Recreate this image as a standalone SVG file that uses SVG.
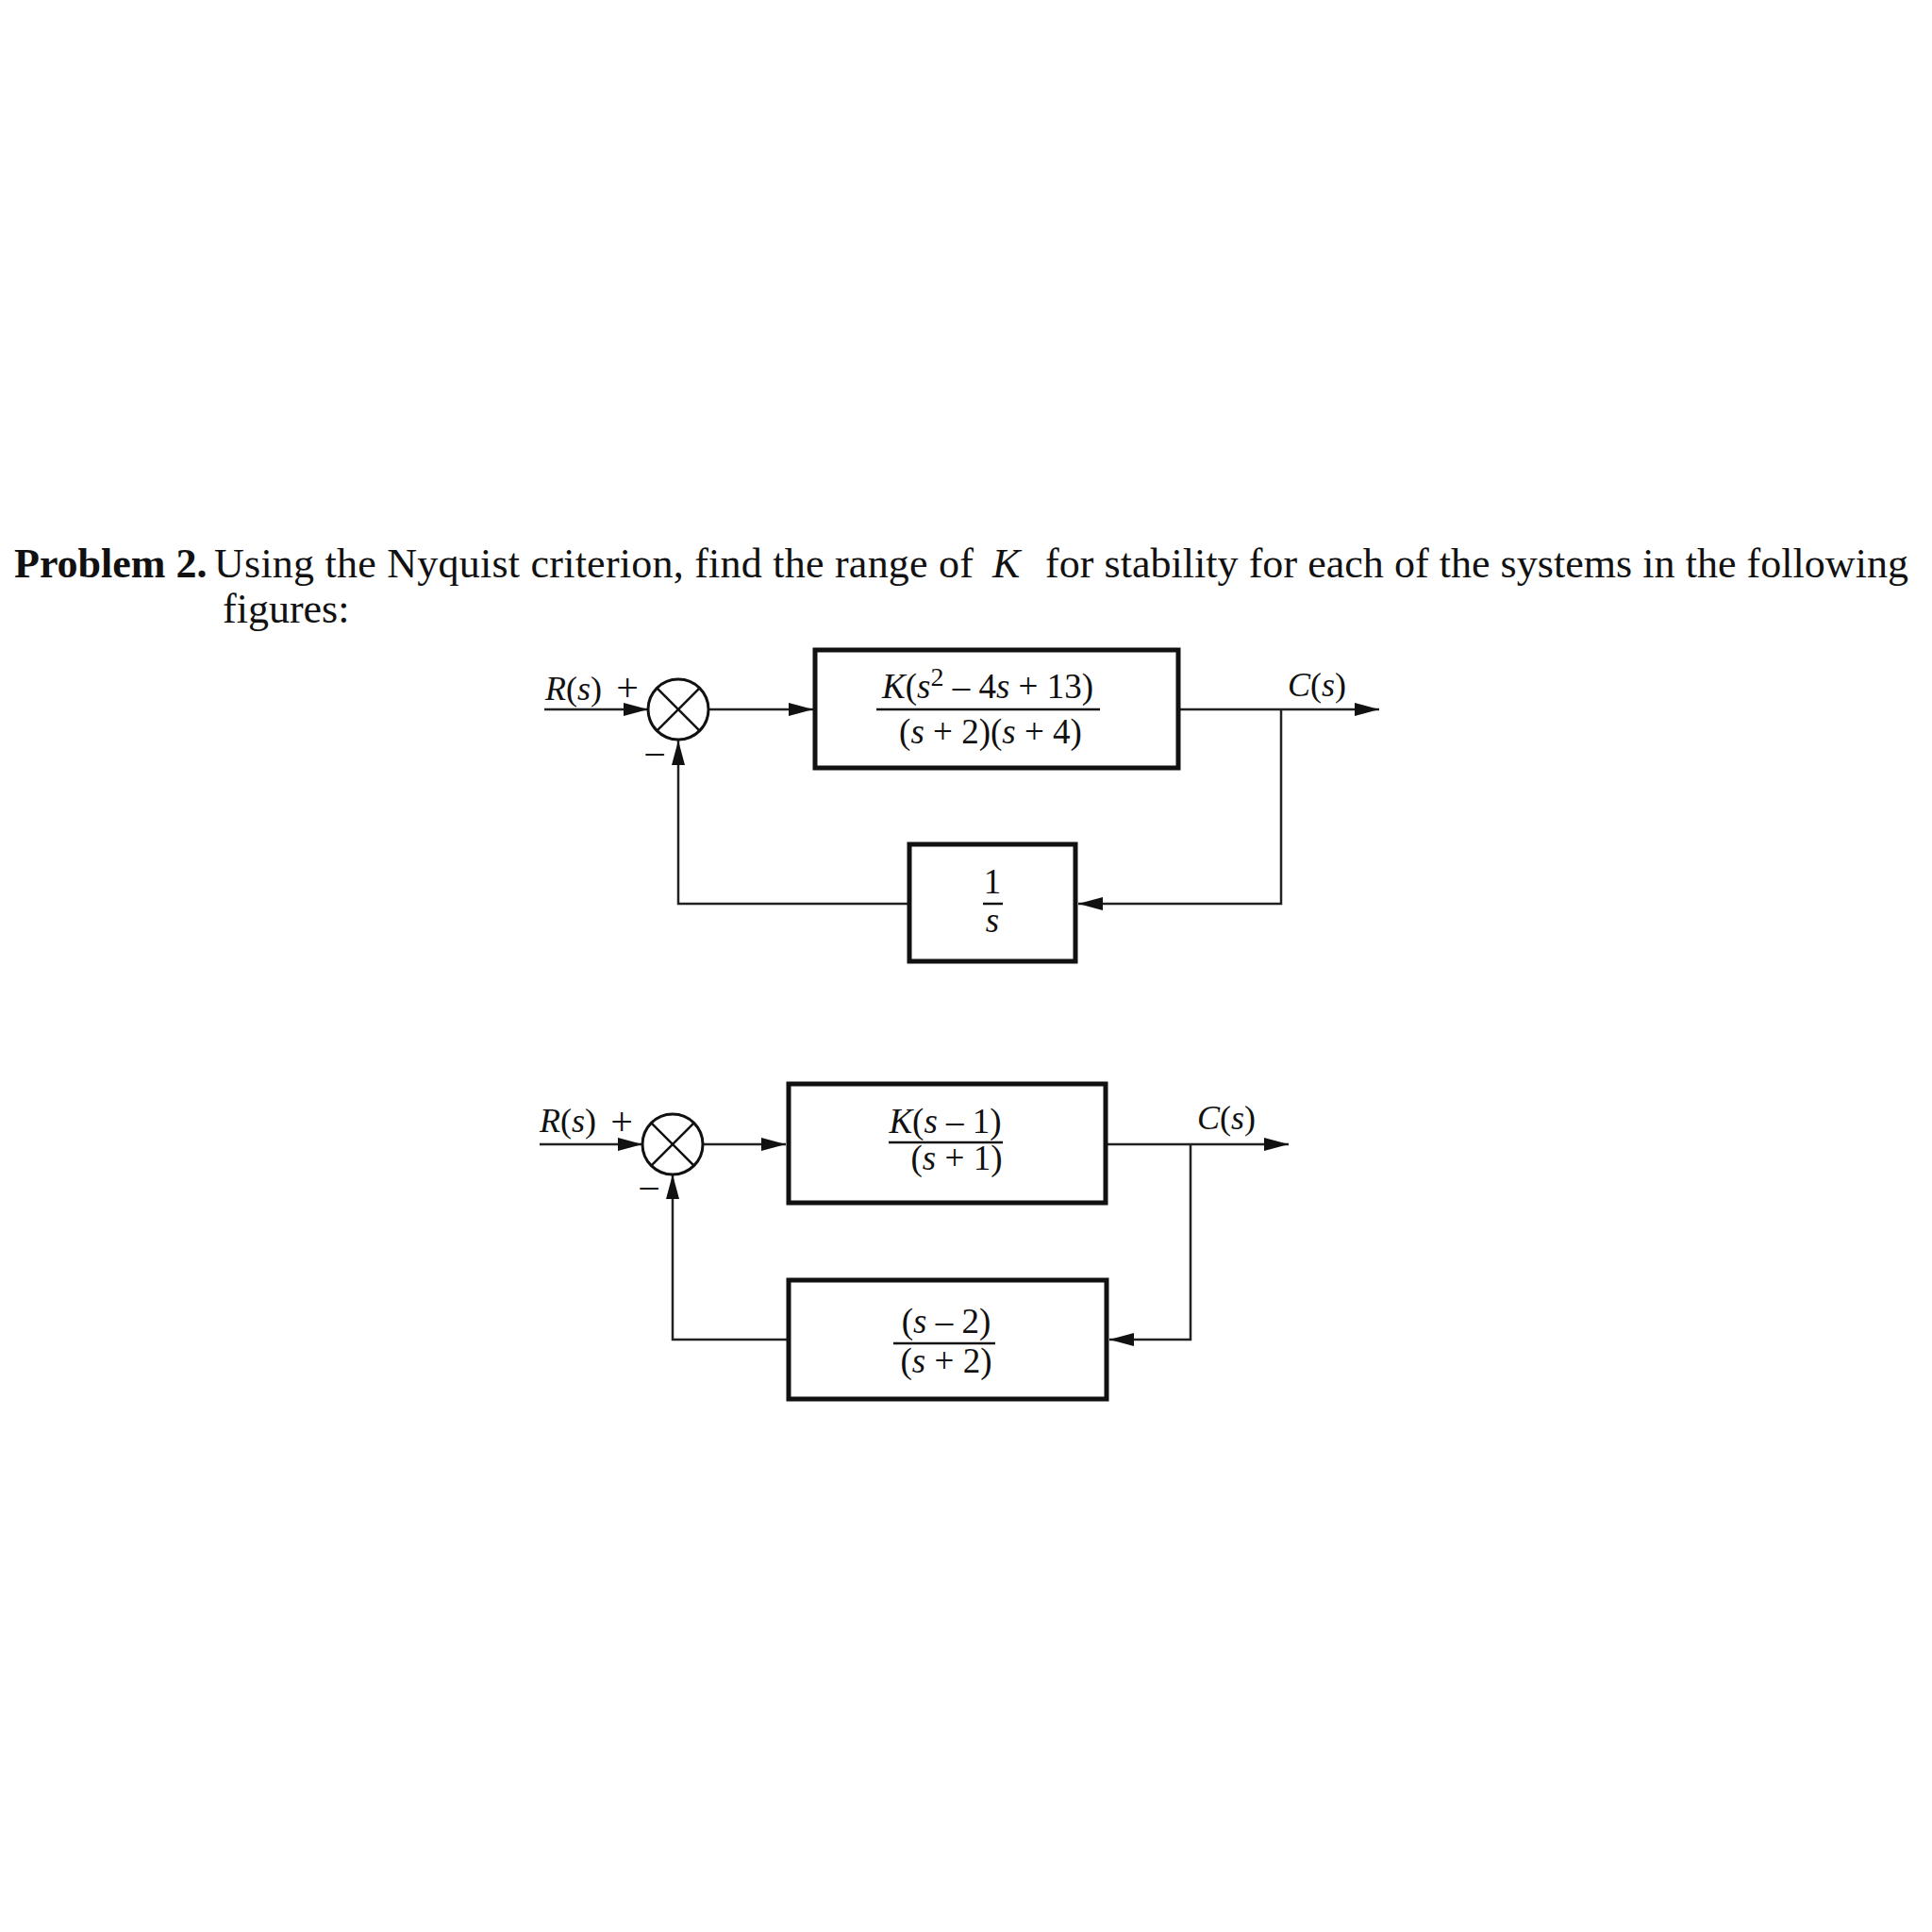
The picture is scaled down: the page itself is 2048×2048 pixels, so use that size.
<svg xmlns="http://www.w3.org/2000/svg" width="2048" height="2048" viewBox="0 0 2048 2048">
<defs>
<style>
text{font-family:"Liberation Serif","Times New Roman",serif;fill:#111}
.title{font-size:44px}
.lbl{font-size:36px}
.frac{font-size:37px}
.sign{font-size:42px}
.i{font-style:italic}
.b{font-weight:bold}
.box{fill:#fff;stroke:#111;stroke-width:5}
.sum{fill:#fff;stroke:#111;stroke-width:3}
.x{stroke:#111;stroke-width:2.5}
.bar{stroke:#111;stroke-width:2.5}
.wire{fill:none;stroke:#222;stroke-width:2.5}
</style>
<marker id="arr" viewBox="0 0 26 14" refX="26" refY="7" markerWidth="26" markerHeight="14" markerUnits="userSpaceOnUse" orient="auto">
<path d="M0,0 L26,7 L0,14 z" fill="#111"/>
</marker>
</defs>
<rect width="2048" height="2048" fill="#fff"/>

<g id="title" class="title">
<text x="15" y="612"><tspan class="b">Problem 2.</tspan></text>
<text x="227" y="612" textLength="805" lengthAdjust="spacing">Using the Nyquist criterion, find the range of</text>
<text x="1052" y="612" class="i">K</text>
<text x="1108" y="612" textLength="915" lengthAdjust="spacing">for stability for each of the systems in the following</text>
<text x="236" y="660">figures:</text>
</g>

<g id="connectors">
<path class="wire" d="M577,752 H687" marker-end="url(#arr)"/>
<path class="wire" d="M751,752 H862" marker-end="url(#arr)"/>
<path class="wire" d="M1249,752 H1462" marker-end="url(#arr)"/>
<path class="wire" d="M1358,752 V958 H1143" marker-end="url(#arr)"/>
<path class="wire" d="M962,958 H719 V785" marker-end="url(#arr)"/>
<path class="wire" d="M572,1213 H681" marker-end="url(#arr)"/>
<path class="wire" d="M745,1213 H833" marker-end="url(#arr)"/>
<path class="wire" d="M1172,1213 H1366" marker-end="url(#arr)"/>
<path class="wire" d="M1262,1213 V1420 H1176" marker-end="url(#arr)"/>
<path class="wire" d="M834,1420 H713 V1245" marker-end="url(#arr)"/>
</g>

<g id="labels1">
<text class="lbl" x="578" y="742"><tspan class="i">R</tspan>(<tspan class="i">s</tspan>)</text>
<text class="sign" x="665" y="743" text-anchor="middle">+</text>
<text class="sign" x="694" y="814" text-anchor="middle">−</text>
<text class="lbl" x="1365" y="738"><tspan class="i">C</tspan>(<tspan class="i">s</tspan>)</text>
</g>

<g id="sum1">
<circle class="sum" cx="719" cy="752" r="32"/>
<line class="x" x1="696.4" y1="729.4" x2="741.6" y2="774.6"/>
<line class="x" x1="741.6" y1="729.4" x2="696.4" y2="774.6"/>
</g>

<g id="G1">
<rect class="box" x="864" y="689" width="385" height="125"/>
<text class="frac" x="1047" y="740" text-anchor="middle"><tspan class="i">K</tspan>(<tspan class="i">s</tspan><tspan font-size="28" dy="-13">2</tspan><tspan dy="13"> – 4</tspan><tspan class="i">s</tspan> + 13)</text>
<line class="bar" x1="929" y1="752" x2="1166" y2="752"/>
<text class="frac" x="1050" y="788" text-anchor="middle">(<tspan class="i">s</tspan> + 2)(<tspan class="i">s</tspan> + 4)</text>
</g>

<g id="H1">
<rect class="box" x="964" y="895" width="176" height="124"/>
<text class="frac" x="1052" y="947" text-anchor="middle">1</text>
<line class="bar" x1="1042" y1="958" x2="1063" y2="958"/>
<text class="frac i" x="1052" y="988" text-anchor="middle">s</text>
</g>

<g id="labels2">
<text class="lbl" x="572" y="1200"><tspan class="i">R</tspan>(<tspan class="i">s</tspan>)</text>
<text class="sign" x="659" y="1203" text-anchor="middle">+</text>
<text class="sign" x="688" y="1274" text-anchor="middle">−</text>
<text class="lbl" x="1269" y="1197"><tspan class="i">C</tspan>(<tspan class="i">s</tspan>)</text>
</g>

<g id="sum2">
<circle class="sum" cx="713" cy="1213" r="32"/>
<line class="x" x1="690.4" y1="1190.4" x2="735.6" y2="1235.6"/>
<line class="x" x1="735.6" y1="1190.4" x2="690.4" y2="1235.6"/>
</g>

<g id="G2">
<rect class="box" x="836" y="1149" width="336" height="126"/>
<text class="frac" x="1002" y="1201" text-anchor="middle"><tspan class="i">K</tspan>(<tspan class="i">s</tspan> – 1)</text>
<line class="bar" x1="942" y1="1211" x2="1063" y2="1211"/>
<text class="frac" x="1014" y="1240" text-anchor="middle">(<tspan class="i">s</tspan> + 1)</text>
</g>

<g id="H2">
<rect class="box" x="836" y="1357" width="337" height="126"/>
<text class="frac" x="1003" y="1413" text-anchor="middle">(<tspan class="i">s</tspan> – 2)</text>
<line class="bar" x1="947" y1="1424" x2="1055" y2="1424"/>
<text class="frac" x="1003" y="1455" text-anchor="middle">(<tspan class="i">s</tspan> + 2)</text>
</g>
</svg>
